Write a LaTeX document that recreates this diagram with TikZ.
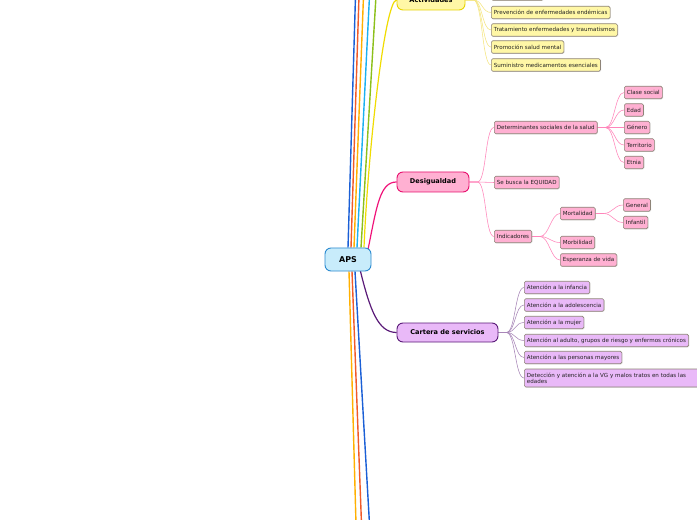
\documentclass[tikz,border=0pt]{standalone}
\usepackage{fontspec}
\setmainfont{DejaVu Sans}
\usetikzlibrary{backgrounds,shadows}
\definecolor{apsfill}{HTML}{C8ECFB}
\definecolor{apsdraw}{HTML}{2A8AD0}
\definecolor{actfill}{HTML}{FFF7A6}
\definecolor{actdraw}{HTML}{E8D400}
\definecolor{desfill}{HTML}{FFB0D2}
\definecolor{desdraw}{HTML}{E8106E}
\definecolor{carfill}{HTML}{E9B9F8}
\definecolor{cardraw}{HTML}{5A1A78}
\definecolor{actline}{HTML}{F0DC00}
\definecolor{desline}{HTML}{F0147A}
\definecolor{carline}{HTML}{5A1A78}
\definecolor{actsub}{HTML}{F5E680}
\definecolor{dessub}{HTML}{FF85BA}
\definecolor{carsub}{HTML}{A886B8}
\definecolor{subdraw}{HTML}{8E8478}
\definecolor{lblue}{HTML}{1A5FD6}
\definecolor{lred}{HTML}{F05A28}
\definecolor{lorange}{HTML}{FFB000}
\definecolor{lsky}{HTML}{1AB0F0}
\definecolor{lgreen}{HTML}{8CC01A}
\definecolor{txt}{HTML}{222222}
\tikzset{
  mainnode/.style={draw, rounded corners=6bp, line width=0.9bp, text=black,
    font=\bfseries\fontsize{6.6}{8}\selectfont, inner sep=0pt, align=center},
  subnode/.style={draw=subdraw, rounded corners=1.5bp, line width=0.6bp, text=txt,
    font=\fontsize{5.6}{6.4}\selectfont, inner sep=2.6bp, anchor=west,
    minimum height=12.5bp,
    drop shadow={shadow xshift=0.7bp, shadow yshift=-0.7bp, opacity=0.25}},
  actsubnode/.style={subnode, fill=actfill},
  dessubnode/.style={subnode, fill=desfill},
  carsubnode/.style={subnode, fill=carfill},
  subline/.style={line width=0.55bp},
  mainline/.style={line width=1.2bp},
  farline/.style={line width=1.4bp},
}
\begin{document}
\begin{tikzpicture}[x=1bp,y=-1bp]
\useasboundingbox (0,0) rectangle (697,520);
\clip (0,0) rectangle (697,520);

% main nodes
\node[mainnode, fill=apsfill, draw=apsdraw, minimum width=46bp, minimum height=23bp,
  font=\bfseries\fontsize{8}{9}\selectfont] (aps) at (348,259.5) {APS};
\node[mainnode, fill=actfill, draw=actdraw, minimum width=68bp, minimum height=20bp] (act) at (431,0) {Actividades};
\node[mainnode, fill=desfill, draw=desdraw, minimum width=72bp, minimum height=20bp] (des) at (433,182) {Desigualdad};
\node[mainnode, fill=carfill, draw=cardraw, minimum width=101bp, minimum height=19bp] (car) at (447.5,332.5) {Cartera de servicios};

% Actividades children
\node[actsubnode, minimum width=52bp] (a0) at (491,-6) {};
\node[actsubnode] (a1) at (491,12.5) {Prevención de enfermedades endémicas};
\node[actsubnode] (a2) at (491,30) {Tratamiento enfermedades y traumatismos};
\node[actsubnode] (a3) at (491,47) {Promoción salud mental};
\node[actsubnode] (a4) at (491,65) {Suministro medicamentos esenciales};

% Desigualdad children
\node[dessubnode] (d1) at (494,127.5) {Determinantes sociales de la salud};
\node[dessubnode] (d2) at (494,182.5) {Se busca la EQUIDAD};
\node[dessubnode] (d3) at (494,236.5) {Indicadores};
\node[dessubnode] (e1) at (624,92.5) {Clase social};
\node[dessubnode] (e2) at (624,110) {Edad};
\node[dessubnode] (e3) at (624,127.5) {Género};
\node[dessubnode] (e4) at (624,145) {Territorio};
\node[dessubnode] (e5) at (624,162.5) {Etnia};
\node[dessubnode] (m1) at (560,213.5) {Mortalidad};
\node[dessubnode] (m2) at (560,242.5) {Morbilidad};
\node[dessubnode] (m3) at (560,260) {Esperanza de vida};
\node[dessubnode] (g1) at (623,205) {General};
\node[dessubnode] (g2) at (623,222.5) {Infantil};

% Cartera children
\node[carsubnode] (c1) at (524,287.5) {Atención a la infancia};
\node[carsubnode] (c2) at (524,305) {Atención a la adolescencia};
\node[carsubnode] (c3) at (524,322.5) {Atención a la mujer};
\node[carsubnode] (c4) at (524,340.5) {Atención al adulto, grupos de riesgo y enfermos crónicos};
\node[carsubnode] (c5) at (524,357.5) {Atención a las personas mayores};
\node[carsubnode, align=left, text width=180bp, minimum height=18bp] (c6) at (524,378) {Detección y atención a la VG y malos tratos en todas las\\edades};

% free ends of connectors leaving the picture
\coordinate (u1) at (355.5,-4);
\coordinate (u2) at (359,-4);
\coordinate (u3) at (363.5,-4);
\coordinate (u4) at (369.5,-4);
\coordinate (u5) at (376,-4);
\coordinate (w1) at (356,524);
\coordinate (w2) at (361.5,524);
\coordinate (w3) at (369.5,524);

\begin{pgfonlayer}{background}
  \fill[white] (0,0) rectangle (697,520);
  % connectors to off-picture nodes
  \draw[farline, lblue]   ([xshift=0bp]aps.north) -- (u1);
  \draw[farline, lred]    ([xshift=3bp]aps.north) -- (u2);
  \draw[farline, lorange] ([xshift=6bp]aps.north) -- (u3);
  \draw[farline, lsky]    ([xshift=9bp]aps.north) -- (u4);
  \draw[farline, lgreen]  ([xshift=13bp]aps.north) -- (u5);
  \draw[farline, lorange] ([xshift=1bp]aps.south) -- (w1);
  \draw[farline, lred]    ([xshift=4bp]aps.south) -- (w2);
  \draw[farline, lblue]   ([xshift=7bp]aps.south) -- (w3);
  % main connectors
  \draw[mainline, actline] ([xshift=16bp]aps.north) .. controls (368,150) and (385,0) .. (act.west);
  \draw[mainline, desline] ([xshift=20bp,yshift=-2bp]aps.north) .. controls (377,205) and (380,182) .. (des.west);
  \draw[mainline, carline] ([xshift=12bp,yshift=2bp]aps.south) .. controls (370,310) and (378,332.5) .. (car.west);
  % sub connectors
  \foreach \c in {a0,a1,a2,a3,a4}
    \draw[subline, actsub] (act.east) -- ++(8,0) .. controls +(9,0) and +(-9,0) .. (\c.west);
  \foreach \c in {d1,d2,d3}
    \draw[subline, dessub] (des.east) -- ++(8,0) .. controls +(9,0) and +(-9,0) .. (\c.west);
  \foreach \c in {e1,e2,e3,e4,e5}
    \draw[subline, dessub] (d1.east) -- ++(8,0) .. controls +(9,0) and +(-9,0) .. (\c.west);
  \foreach \c in {m1,m2,m3}
    \draw[subline, dessub] (d3.east) -- ++(8,0) .. controls +(9,0) and +(-9,0) .. (\c.west);
  \foreach \c in {g1,g2}
    \draw[subline, dessub] (m1.east) -- ++(8,0) .. controls +(9,0) and +(-9,0) .. (\c.west);
  \foreach \c in {c1,c2,c3,c4,c5,c6}
    \draw[subline, carsub] (car.east) -- ++(8,0) .. controls +(9,0) and +(-9,0) .. (\c.west);
\end{pgfonlayer}
\end{tikzpicture}
\end{document}
